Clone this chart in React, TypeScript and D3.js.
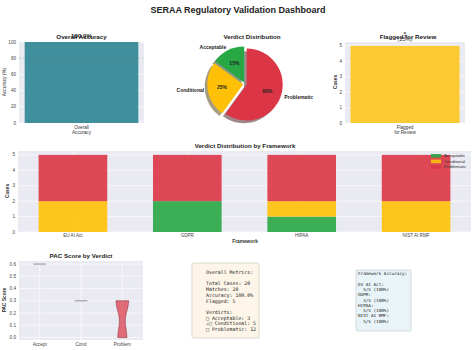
import * as d3 from "d3";
import React from "react";

// ---- data ----
const verdictLabels = ["Acceptable", "Conditional", "Problematic"];
const verdictCounts = [3, 5, 12];
const verdictColors = ["#28a745", "#ffc107", "#dc3545"];

const frameworks = ["EU AI Act", "GDPR", "HIPAA", "NIST AI RMF"];
const fwAcceptable = [0, 2, 1, 0];
const fwConditional = [2, 0, 1, 2];
const fwProblematic = [3, 3, 3, 3];

const accuracyLabels = ["Overall\nAccuracy"];
const accuracyValues = [100];
const targetAccuracy = 80;

const flaggedLabels = ["Flagged\nfor Review"];
const flaggedValues = [5];
const totalCases = 20;

const pacGroups = ["Accept", "Cond", "Problem"];
const pacAccept = [0.6, 0.6, 0.6];
const pacConditional = [0.3, 0.3, 0.3, 0.3, 0.3];
const pacProblem = [0, 0, 0, 0, 0, 0.3, 0.3, 0.3, 0.3, 0.3, 0.3, 0.3];

const metricsLines = [
  "Overall Metrics:",
  "",
  "Total Cases: 20",
  "Matches: 20",
  "Accuracy: 100.0%",
  "Flagged: 5",
  "",
  "Verdicts:",
  "\u25A1 Acceptable: 3",
  "\u26A0\u25A1 Conditional: 5",
  "\u25A1 Problematic: 12",
];
const frameworkLines = [
  "Framework Accuracy:",
  "",
  "EU AI Act:",
  "  5/5 (100%)",
  "GDPR:",
  "  5/5 (100%)",
  "HIPAA:",
  "  5/5 (100%)",
  "NIST AI RMF:",
  "  5/5 (100%)",
];

const FONT = "'Liberation Sans', Arial, sans-serif";
const MONO = "'DejaVu Sans Mono', monospace";
const BG = "#eaeaf2";
const TICK = "#444";

function kde(values: number[], grid: number[]) {
  const n = values.length;
  const sd = d3.deviation(values) || 0;
  const bw = sd * Math.pow(n, -1 / 5);
  return grid.map((g) =>
    d3.mean(values, (v) => Math.exp(-0.5 * ((g - v) / bw) ** 2) / bw)!
  );
}

function YAxis({ scale, x, ticks, fmt }: any) {
  return (
    <g>
      {ticks.map((t: number) => (
        <text key={t} x={x} y={scale(t)} dy="0.35em" textAnchor="end" fontSize={4.6} fill={TICK}>
          {fmt ? fmt(t) : t}
        </text>
      ))}
    </g>
  );
}

function MultiLine({ x, y, lines, size, anchor, weight, lh }: any) {
  return (
    <text x={x} y={y} fontSize={size} textAnchor={anchor || "middle"} fontWeight={weight || "normal"} fill="#333">
      {lines.map((l: string, i: number) => (
        <tspan key={i} x={x} dy={i === 0 ? 0 : lh}>
          {l}
        </tspan>
      ))}
    </text>
  );
}

export default function App() {
  // panel 1: overall accuracy
  const x1 = d3.scaleLinear().domain([-0.44, 0.44]).range([19, 144]);
  const y1 = d3.scaleLinear().domain([0, 100]).range([123, 42]);

  // panel 3: flagged
  const x3 = d3.scaleLinear().domain([-0.44, 0.44]).range([345, 465]);
  const y3 = d3.scaleLinear().domain([0, 5.25]).range([123, 42]);

  // pie
  const cx = 245, cy = 84, r = 36;
  const pie = d3.pie<number>().sort(null).startAngle(0).endAngle(-2 * Math.PI);
  const arcs = pie(verdictCounts);
  const arc = d3.arc<any>().innerRadius(0).outerRadius(r);
  const polar = (a: number, d: number) => [Math.sin(a) * d, -Math.cos(a) * d];

  // panel 4: stacked bars
  const x4 = d3.scaleLinear().domain([-0.48, 3.48]).range([18, 471]);
  const y4 = d3.scaleLinear().domain([0, 5.25]).range([232, 151]);
  const stackData = frameworks.map((f, i) => ({
    fw: f,
    Acceptable: fwAcceptable[i],
    Conditional: fwConditional[i],
    Problematic: fwProblematic[i],
  }));
  const series = d3.stack<any>().keys(verdictLabels)(stackData);

  // panel 5: violins
  const x5 = d3.scaleLinear().domain([0.5, 3.5]).range([19, 143]);
  const y5 = d3.scaleLinear().domain([-0.02, 0.625]).range([340, 261]);
  const pacSets = [pacAccept, pacConditional, pacProblem];
  const halfW = 6.3;

  return (
    <svg width={474} height={350} style={{ position: "absolute", left: 0, top: 0 }} fontFamily={FONT}>
      <rect width={474} height={350} fill="#fff" />
      <text x={238} y={13} textAnchor="middle" fontSize={9} fontWeight="bold" fill="#222">
        SERAA Regulatory Validation Dashboard
      </text>

      {/* Panel 1 */}
      <rect x={19} y={42} width={125} height={81} fill={BG} />
      {[0, 20, 40, 60, 80, 100].map((t) => (
        <line key={t} x1={19} x2={144} y1={y1(t)} y2={y1(t)} stroke="#fff" strokeWidth={0.6} />
      ))}
      <line x1={x1(0)} x2={x1(0)} y1={42} y2={123} stroke="#fff" strokeWidth={0.6} />
      {accuracyValues.map((v, i) => (
        <rect key={i} x={x1(-0.4)} y={y1(v)} width={x1(0.4) - x1(-0.4)} height={y1(0) - y1(v)} fill="#3f909c" />
      ))}
      <line x1={19} x2={144} y1={y1(targetAccuracy)} y2={y1(targetAccuracy)} stroke="#6a7f86" strokeWidth={0.6} strokeDasharray="2,1.5" opacity={0.7} />
      <YAxis scale={y1} x={16} ticks={[0, 20, 40, 60, 80, 100]} />
      <text transform="translate(6,82) rotate(-90)" textAnchor="middle" fontSize={4.8} fill="#333">
        Accuracy (%)
      </text>
      <MultiLine x={x1(0)} y={129} lines={accuracyLabels[0].split("\n")} size={4.6} lh={4.8} />
      <text x={81.5} y={39} textAnchor="middle" fontSize={6.2} fontWeight="bold" fill="#222">
        Overall Accuracy
      </text>
      <text x={x1(0)} y={y1(accuracyValues[0]) - 4} textAnchor="middle" fontSize={6.2} fontWeight="bold" fill="#222">
        {accuracyValues[0].toFixed(1)}%
      </text>

      {/* Panel 2: pie */}
      <text x={252} y={39} textAnchor="middle" fontSize={6.2} fontWeight="bold" fill="#222">
        Verdict Distribution
      </text>
      {arcs.map((a, i) => {
        const mid = (a.startAngle + a.endAngle) / 2;
        const [ex, ey] = polar(mid, 0.05 * r);
        const c = d3.rgb(verdictColors[i]);
        return (
          <path
            key={"s" + i}
            d={arc(a)!}
            transform={`translate(${cx + ex - 2.6},${cy + ey + 2.6})`}
            fill={`rgb(${c.r * 0.3},${c.g * 0.3},${c.b * 0.3})`}
            opacity={0.5}
          />
        );
      })}
      {arcs.map((a, i) => {
        const mid = (a.startAngle + a.endAngle) / 2;
        const [ex, ey] = polar(mid, 0.05 * r);
        const [lx, ly] = polar(mid, 1.1 * r);
        const [px, py] = polar(mid, 0.6 * r);
        const pct = (verdictCounts[i] / d3.sum(verdictCounts)) * 100;
        return (
          <g key={i}>
            <path d={arc(a)!} transform={`translate(${cx + ex},${cy + ey})`} fill={verdictColors[i]} />
            <text x={cx + ex + px} y={cy + ey + py} dy="0.35em" textAnchor="middle" fontSize={5} fontWeight="bold" fill="#222">
              {pct.toFixed(0)}%
            </text>
            <text
              x={cx + ex + lx}
              y={cy + ey + ly}
              dy="0.35em"
              textAnchor={lx < 0 ? "end" : "start"}
              fontSize={5}
              fontWeight="bold"
              fill="#222"
            >
              {verdictLabels[i]}
            </text>
          </g>
        );
      })}

      {/* Panel 3 */}
      <rect x={345} y={42} width={120} height={81} fill={BG} />
      {[0, 1, 2, 3, 4, 5].map((t) => (
        <line key={t} x1={345} x2={465} y1={y3(t)} y2={y3(t)} stroke="#fff" strokeWidth={0.6} />
      ))}
      {flaggedValues.map((v, i) => (
        <rect key={i} x={x3(-0.4)} y={y3(v)} width={x3(0.4) - x3(-0.4)} height={y3(0) - y3(v)} fill="#fbca33" />
      ))}
      <YAxis scale={y3} x={342} ticks={[0, 1, 2, 3, 4, 5]} />
      <text transform="translate(337,82) rotate(-90)" textAnchor="middle" fontSize={4.8} fontWeight="bold" fill="#333">
        Cases
      </text>
      <MultiLine x={x3(0)} y={129} lines={flaggedLabels[0].split("\n")} size={4.6} lh={4.8} />
      <text x={408} y={39} textAnchor="middle" fontSize={6.2} fontWeight="bold" fill="#222">
        Flagged for Review
      </text>
      <MultiLine
        x={x3(0)}
        y={y3(flaggedValues[0]) - 10}
        lines={[String(flaggedValues[0]), `(${((flaggedValues[0] / totalCases) * 100).toFixed(0)}%)`]}
        size={5.6}
        lh={5.6}
      />

      {/* Panel 4 */}
      <text x={245} y={148} textAnchor="middle" fontSize={6.2} fontWeight="bold" fill="#222">
        Verdict Distribution by Framework
      </text>
      <rect x={18} y={151} width={453} height={81} fill={BG} />
      {[0, 1, 2, 3, 4, 5].map((t) => (
        <line key={t} x1={18} x2={471} y1={y4(t)} y2={y4(t)} stroke="#fff" strokeWidth={0.6} />
      ))}
      {frameworks.map((f, i) => (
        <line key={f} x1={x4(i)} x2={x4(i)} y1={151} y2={232} stroke="#fff" strokeWidth={0.6} />
      ))}
      {series.map((s, si) =>
        s.map((d, i) => (
          <rect
            key={si + "-" + i}
            x={x4(i - 0.3)}
            y={y4(d[1])}
            width={x4(0.3) - x4(-0.3)}
            height={y4(d[0]) - y4(d[1])}
            fill={verdictColors[si]}
            opacity={0.9}
          />
        ))
      )}
      <YAxis scale={y4} x={15} ticks={[0, 1, 2, 3, 4, 5]} />
      {frameworks.map((f, i) => (
        <text key={f} x={x4(i)} y={237} textAnchor="middle" fontSize={4.6} fill={TICK}>
          {f}
        </text>
      ))}
      <text transform="translate(9,191) rotate(-90)" textAnchor="middle" fontSize={4.8} fontWeight="bold" fill="#333">
        Cases
      </text>
      <text x={245} y={243} textAnchor="middle" fontSize={4.8} fontWeight="bold" fill="#333">
        Framework
      </text>
      {verdictLabels.map((l, i) => (
        <g key={l}>
          <rect x={431} y={154 + i * 5.6} width={10} height={3.6} fill={verdictColors[i]} opacity={0.9} />
          <text x={444} y={155.8 + i * 5.6} dy="0.35em" fontSize={4.2} fill="#333">
            {l}
          </text>
        </g>
      ))}

      {/* Panel 5 */}
      <text x={81} y={258} textAnchor="middle" fontSize={6.2} fontWeight="bold" fill="#222">
        PAC Score by Verdict
      </text>
      <rect x={19} y={261} width={124} height={79} fill={BG} />
      {[0, 0.1, 0.2, 0.3, 0.4, 0.5, 0.6].map((t) => (
        <line key={t} x1={19} x2={143} y1={y5(t)} y2={y5(t)} stroke="#fff" strokeWidth={0.6} />
      ))}
      {pacGroups.map((g, i) => (
        <line key={g} x1={x5(i + 1)} x2={x5(i + 1)} y1={261} y2={340} stroke="#fff" strokeWidth={0.6} />
      ))}
      {pacSets.map((vals, i) => {
        const cxv = x5(i + 1);
        const lo = d3.min(vals)!, hi = d3.max(vals)!;
        if (hi - lo < 1e-9) {
          return (
            <line key={i} x1={cxv - halfW} x2={cxv + halfW} y1={y5(lo)} y2={y5(lo)} stroke="#666" strokeWidth={0.7} />
          );
        }
        const grid = d3.range(0, 101).map((k) => lo + ((hi - lo) * k) / 100);
        const dens = kde(vals, grid);
        const w = d3.scaleLinear().domain([0, d3.max(dens)!]).range([0, halfW]);
        const area = d3
          .area<number>()
          .y((_, k) => y5(grid[k]))
          .x0((d) => cxv - w(d))
          .x1((d) => cxv + w(d));
        return (
          <path key={i} d={area(dens)!} fill={verdictColors[2]} fillOpacity={0.7} stroke="#8b2a33" strokeWidth={0.6} />
        );
      })}
      <YAxis scale={y5} x={16} ticks={[0, 0.1, 0.2, 0.3, 0.4, 0.5, 0.6]} fmt={(t: number) => t.toFixed(1)} />
      {pacGroups.map((g, i) => (
        <text key={g} x={x5(i + 1)} y={346} textAnchor="middle" fontSize={4.6} fill={TICK}>
          {g}
        </text>
      ))}
      <text transform="translate(6,300) rotate(-90)" textAnchor="middle" fontSize={4.8} fontWeight="bold" fill="#333">
        PAC Score
      </text>

      {/* Text boxes */}
      <rect x={192} y={263} width={67} height={75} rx={1.5} fill="#fcf5e8" stroke="#c8c2b5" strokeWidth={0.6} />
      <text fontFamily={MONO} fontSize={4.9} fill="#222">
        {metricsLines.map((l, i) => (
          <tspan key={i} x={206} y={274 + i * 5.7} style={{ whiteSpace: "pre" }}>
            {l}
          </tspan>
        ))}
      </text>
      <rect x={356} y={270} width={55} height={61} rx={1.5} fill="#e8f4f7" stroke="#b8c6cc" strokeWidth={0.6} />
      <text fontFamily={MONO} fontSize={4.3} fill="#222">
        {frameworkLines.map((l, i) => (
          <tspan key={i} x={358} y={275 + i * 5.3} style={{ whiteSpace: "pre" }}>
            {l}
          </tspan>
        ))}
      </text>
    </svg>
  );
}
